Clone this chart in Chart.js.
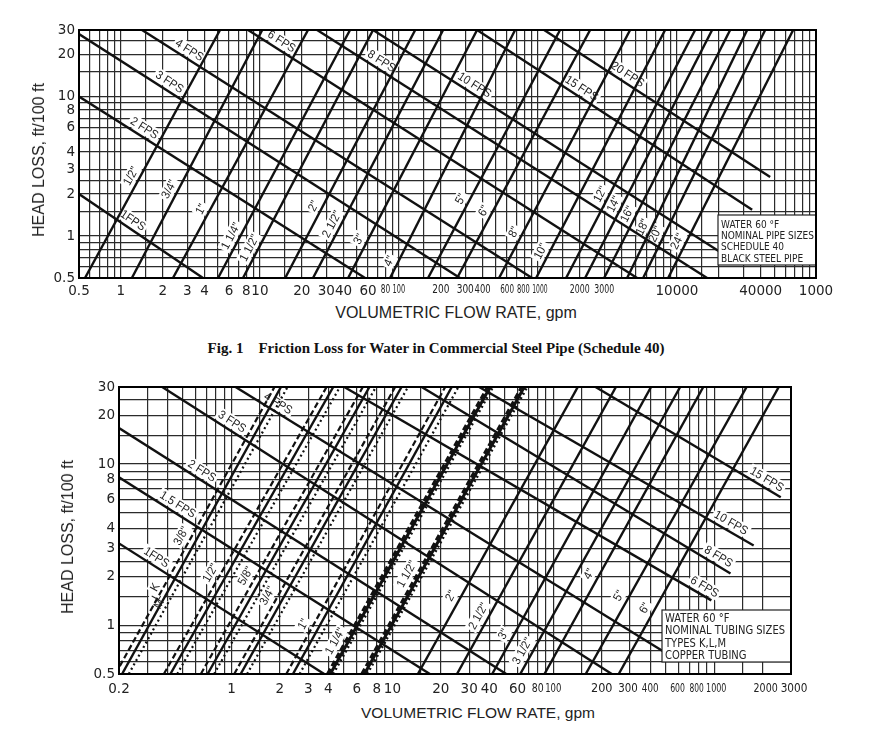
<!DOCTYPE html>
<html><head><meta charset="utf-8">
<script src="https://cdn.jsdelivr.net/npm/chart.js@4.4.1/dist/chart.umd.min.js"></script>
<style>
html,body{margin:0;padding:0;background:#fff}
body{width:873px;height:735px;position:relative;overflow:hidden;font-family:"Liberation Sans",Arial,sans-serif}
.box{position:absolute;left:0;width:873px}
.t{position:absolute;white-space:nowrap;color:#222;font-family:"Liberation Sans",Arial,sans-serif}
</style></head><body>
<div class="box" style="top:0;height:300px"><canvas id="steel"></canvas></div>
<div class="t" style="left:456px;top:313px;transform:translate(-50%,-50%);font-size:16px">VOLUMETRIC FLOW RATE, gpm</div>
<div class="t" style="left:39px;top:160px;transform:translate(-50%,-50%) rotate(-90deg);font-size:16px">HEAD LOSS, ft/100 ft</div>
<div class="t" style="left:436px;top:348px;transform:translate(-50%,-50%);font:bold 15px 'Liberation Serif','DejaVu Serif',serif;color:#111">Fig. 1&nbsp;&nbsp;&nbsp; Friction Loss for Water in Commercial Steel Pipe (Schedule 40)</div>
<div class="box" style="top:360px;height:340px"><canvas id="copper"></canvas></div>
<div class="t" style="left:478px;top:713px;transform:translate(-50%,-50%);font-size:15.5px">VOLUMETRIC FLOW RATE, gpm</div>
<div class="t" style="left:68px;top:537px;transform:translate(-50%,-50%) rotate(-90deg);font-size:16px">HEAD LOSS, ft/100 ft</div>
<script>
// ================= Fig. 1 : commercial steel pipe (schedule 40) =================
const steelSizes = ['1/2"','3/4"','1"','1 1/4"','1 1/2"','2"','2 1/2"','3"','4"','5"','6"','8"','10"','12"','14"','16"','18"','20"','24"'];
// flow (gpm) where each size line meets head loss 0.5 and 30 ft/100 ft
const steelFlowAtLoss05 = [0.552,1.20,2.37,5.0,7.56,15.2,24.1,43.1,86.4,162,262,525,970,1594,2184,2992,4379,5710,8640];
const steelFlowAtLoss30 = [5.17,10.4,22.2,44.5,65.2,131,208,365,685,1443,2373,4603,8216,13510,17900,24130,31970,43080,68500];
const steelSizeLabelLoss = [2.52,2.03,1.46,0.937,0.769,1.54,1.14,0.892,0.62,1.73,1.42,1.0,0.73,1.87,1.59,1.35,1.09,0.97,0.86];

const steelVelocities = ['1FPS','2 FPS','3 FPS','4 FPS','6 FPS','8 FPS','10 FPS','15 FPS','20 FPS'];
const steelVelStartFlow = [0.5,0.5,0.5,1.42,8.22,25.8,65.2,365,1108];
const steelVelStartLoss = [2.0,10,28.1,30,30,30,30,30,30];
const steelVelEndFlow = [3.90,57.1,275,908,5170,16480,20440,34730,46800];
const steelVelEndLoss = [0.5,0.5,0.5,0.5,0.5,0.5,0.769,1.54,2.65];
const steelVelLabelFlow = [1.13,1.37,2.08,2.89,13.3,69.7,325,1913,4100];

const steelXTickValues = [0.5,1,2,3,4,6,8,10,20,30,40,60,80,100,200,300,400,600,800,1000,2000,3000,10000,40000,100000];
const steelXTickText = ['0.5','1','2','3','4','6','8','10','20','30','40','60','80','100','200','300','400','600','800','1000','2000','3000','10000','40000','1000'];
const steelNarrowTicks = [80,100,200,300,400,600,800,1000,2000,3000];
const steelYTickValues = [0.5,1,2,3,4,6,8,10,20,30];
const steelYTickText = ['0.5','1','2','3','4','6','8','10','20','30'];
const steelNote = ['WATER 60 °F','NOMINAL PIPE SIZES','SCHEDULE 40','BLACK STEEL PIPE'];

// ================= copper tubing, types K, L, M =================
const copperSizes = ['3/8"','1/2"','5/8"','3/4"','1"','1 1/4"','1 1/2"','2"','2 1/2"','3"','3 1/2"','4"','5"','6"'];
const copperLFlowAtLoss05 = [0.209,0.417,0.710,1.14,2.41,4.11,6.70,14.4,25.2,41.7,62.3,88.1,159,255];
const copperLFlowAtLoss30 = [2.03,4.29,7.20,11.4,23.4,40.5,66.0,142,245,405,614,855,1589,2518];
const copperKFlowAtLoss05 = [0.19,0.38,0.645,1.04,2.19,3.95,6.45];
const copperKFlowAtLoss30 = [1.85,3.9,6.55,10.4,21.3,39.0,63.5];
const copperMFlowAtLoss05 = [0.23,0.46,0.78,1.25,2.65,4.27,6.95];
const copperMFlowAtLoss30 = [2.23,4.72,7.9,12.5,25.7,42.0,68.6];
const copperSizeLabelLoss = [3.36,1.98,1.90,1.43,0.955,0.749,1.95,1.43,1.07,0.828,0.65,1.95,1.43,1.20];
const copperTypeLabels = ['K','L','M'];
const copperTypeLabelLoss = [1.64,1.43,1.29];

const copperVelocities = ['1FPS','1.5 FPS','2 FPS','3 FPS','4 FPS','6 FPS','8 FPS','10 FPS','15 FPS'];
const copperVelStartFlow = [0.2,0.2,0.2,0.371,1.06,5.02,15.2,34.6,183];
const copperVelStartLoss = [3.22,8.28,16.7,30,30,30,30,30,30];
const copperVelEndFlow = [3.77,17.1,51.0,231,495,960,1262,1758,2591];
const copperVelEndLoss = [0.5,0.5,0.5,0.5,0.68,1.43,2.10,3.13,6.22];
const copperVelLabelFlow = [0.321,0.435,0.614,0.946,1.83,820,1000,1200,2000];

const copperXTickValues = [0.2,1,2,3,4,6,8,10,20,30,40,60,80,100,200,300,400,600,800,1000,2000,3000];
const copperXTickText = ['0.2','1','2','3','4','6','8','10','20','30','40','60','80','100','200','300','400','600','800','1000','2000','3000'];
const copperNarrowTicks = [80,100,200,300,400,600,800,1000,2000,3000];
const copperYTickValues = [0.5,1,2,3,4,6,8,10,20,30];
const copperYTickText = ['0.5','1','2','3','4','6','8','10','20','30'];
const copperNote = ['WATER 60 °F','NOMINAL TUBING SIZES','TYPES K,L,M','COPPER TUBING'];

// grid multipliers per decade
const xGridMult = [1,1.5,2,3,4,5,6,7,8,9];
const yGridMult = [1,1.5,2,2.5,3,4,5,6,7,8,9];

// ---------------------------------------------------------------
function gridValues(min, max, mult) {
  const out = [];
  for (let e = -2; e <= 6; e++) for (const m of mult) {
    const v = +(m * Math.pow(10, e)).toPrecision(6);
    if (v >= min * 0.9999 && v <= max * 1.0001) out.push(v);
  }
  return out.sort((a, b) => a - b);
}
function seg(x1, y1, x2, y2, extra) {
  return Object.assign({ data: [{x: x1, y: y1}, {x: x2, y: y2}], borderColor: '#111', borderWidth: 2.4,
    pointRadius: 0, fill: false, tension: 0 }, extra || {});
}
const LABEL_FONT = '12px "Liberation Sans", Arial, sans-serif';

function makeDecor(cfg) {
  function place(chart, it) {
    const ds = chart.data.datasets[it.ds];
    const xs = chart.scales.x, ys = chart.scales.y;
    const a = {x: xs.getPixelForValue(ds.data[0].x), y: ys.getPixelForValue(ds.data[0].y)};
    const b = {x: xs.getPixelForValue(ds.data[1].x), y: ys.getPixelForValue(ds.data[1].y)};
    const t = it.axis === 'x' ? (xs.getPixelForValue(it.at) - a.x) / (b.x - a.x)
                              : (ys.getPixelForValue(it.at) - a.y) / (b.y - a.y);
    let ang = Math.atan2(b.y - a.y, b.x - a.x);
    if (ang > Math.PI / 2) ang -= Math.PI;
    if (ang < -Math.PI / 2) ang += Math.PI;
    return {x: a.x + t * (b.x - a.x), y: a.y + t * (b.y - a.y), ang};
  }
  function labels(chart, bg) {
    const ctx = chart.ctx, ca = chart.chartArea;
    ctx.save();
    ctx.beginPath(); ctx.rect(ca.left, ca.top, ca.right - ca.left, ca.bottom - ca.top); ctx.clip();
    for (const it of cfg.labels) {
      const p = place(chart, it);
      const sx = 0.92;
      ctx.save();
      ctx.translate(p.x, p.y); ctx.rotate(p.ang); ctx.translate(0, -(it.off == null ? 8 : it.off));
      ctx.font = LABEL_FONT;
      const w = ctx.measureText(it.text).width * sx;
      if (bg) {
        ctx.fillStyle = '#fff';
        ctx.fillRect(-w / 2 - 2, -7, w + 4, 13);
      } else {
        ctx.scale(sx, 1);
        ctx.fillStyle = '#222'; ctx.textAlign = 'center'; ctx.textBaseline = 'middle';
        ctx.fillText(it.text, 0, 0);
      }
      ctx.restore();
    }
    ctx.restore();
  }
  function note(chart) {
    const ctx = chart.ctx, ca = chart.chartArea, n = cfg.note;
    const left = ca.right - n.w, top = ca.bottom - n.up;
    ctx.save();
    ctx.fillStyle = '#fff'; ctx.fillRect(left, top, n.w, n.h);
    ctx.strokeStyle = '#222'; ctx.lineWidth = 1.2; ctx.strokeRect(left, top, n.w, n.h);
    ctx.font = n.font; ctx.fillStyle = '#222'; ctx.textBaseline = 'middle';
    const widest = Math.max(...n.lines.map(s => ctx.measureText(s).width));
    const sx = n.textW / widest;
    n.lines.forEach((s, i) => {
      ctx.save(); ctx.translate(left + 3, top + n.first + i * n.step); ctx.scale(sx, 1);
      ctx.fillText(s, 0, 0); ctx.restore();
    });
    ctx.restore();
  }
  // narrow (condensed) x tick labels, placed through the x scale
  function narrowTicks(chart) {
    const ctx = chart.ctx, ca = chart.chartArea, xs = chart.scales.x;
    const xText = new Map(cfg.xTickValues.map((v, i) => [v, cfg.xTickText[i]]));
    ctx.save();
    ctx.font = cfg.narrowFont; ctx.fillStyle = '#222'; ctx.textAlign = 'center'; ctx.textBaseline = 'top';
    cfg.narrowTicks.forEach((v, i) => {
      const px = xs.getPixelForValue(v) + (cfg.narrowShift ? cfg.narrowShift[i] : 0);
      ctx.save(); ctx.translate(px, ca.bottom + cfg.xPad + cfg.narrowDy); ctx.scale(cfg.narrowSquash[i], 1);
      ctx.fillText(xText.get(v), 0, 0); ctx.restore();
    });
    ctx.restore();
  }
  return {
    id: 'decor',
    beforeDatasetsDraw(chart) { labels(chart, true); },
    afterDatasetsDraw(chart) {
      labels(chart, false);
      note(chart);
      const ctx = chart.ctx, ca = chart.chartArea;
      ctx.save(); ctx.strokeStyle = '#000'; ctx.lineWidth = 2;
      ctx.strokeRect(ca.left, ca.top, ca.right - ca.left, ca.bottom - ca.top); ctx.restore();
    },
    afterDraw(chart) { narrowTicks(chart); }
  };
}

function makeChart(id, cfg) {
  const xText = new Map(cfg.xTickValues.map((v, i) => [v, cfg.xTickText[i]]));
  const yText = new Map(cfg.yTickValues.map((v, i) => [v, cfg.yTickText[i]]));
  const narrow = new Set(cfg.narrowTicks);
  const xGrid = gridValues(cfg.xMin, cfg.xMax, xGridMult);
  const yGrid = gridValues(cfg.yMin, cfg.yMax, yGridMult);
  return new Chart(document.getElementById(id), {
    type: 'line',
    data: {datasets: cfg.datasets},
    options: {
      responsive: true, maintainAspectRatio: false, animation: false, events: [],
      layout: {padding: cfg.padding},
      plugins: {legend: {display: false}, tooltip: {enabled: false}},
      scales: {
        x: {type: 'logarithmic', min: cfg.xMin, max: cfg.xMax,
          afterBuildTicks: s => { s.ticks = xGrid.map(v => ({value: v})); },
          afterFit: s => { s.height = cfg.xAxisH; },
          grid: {color: '#2b2b2b', lineWidth: 1.2, drawTicks: false},
          border: {display: true, color: '#000', width: 2},
          ticks: {autoSkip: false, maxRotation: 0, minRotation: 0, padding: cfg.xPad, color: '#222',
            callback: v => (xText.has(v) && !narrow.has(v)) ? xText.get(v) : '',
            font: {family: '"DejaVu Sans", sans-serif', size: 13.5}}},
        y: {type: 'logarithmic', min: cfg.yMin, max: cfg.yMax,
          afterBuildTicks: s => { s.ticks = yGrid.map(v => ({value: v})); },
          afterFit: s => { s.width = cfg.yAxisW; },
          grid: {color: '#2b2b2b', lineWidth: 1.2, drawTicks: false},
          border: {display: true, color: '#000', width: 2},
          ticks: {autoSkip: false, padding: 4, color: '#222',
            callback: v => yText.has(v) ? yText.get(v) : '',
            font: {family: '"DejaVu Sans", sans-serif', size: 13.5}}}
      }
    },
    plugins: [makeDecor(cfg)]
  });
}

// ---------- build steel chart ----------
(function () {
  const ds = [], labels = [];
  steelSizes.forEach((s, i) => {
    ds.push(seg(steelFlowAtLoss05[i], 0.5, steelFlowAtLoss30[i], 30));
    labels.push({ds: ds.length - 1, text: s, axis: 'y', at: steelSizeLabelLoss[i], off: 8});
  });
  steelVelocities.forEach((s, i) => {
    ds.push(seg(steelVelStartFlow[i], steelVelStartLoss[i], steelVelEndFlow[i], steelVelEndLoss[i]));
    labels.push({ds: ds.length - 1, text: s, axis: 'x', at: steelVelLabelFlow[i], off: 8});
  });
  makeChart('steel', {
    datasets: ds, labels,
    xMin: 0.5, xMax: 100000, yMin: 0.5, yMax: 30,
    xTickValues: steelXTickValues, xTickText: steelXTickText, narrowTicks: steelNarrowTicks,
    narrowSquash: [0.62,0.55,0.75,0.75,0.7,0.6,0.56,0.5,0.65,0.65],
    narrowShift: [0,0,0,0,0,0,-1,2,0,0],
    narrowFont: '12px "DejaVu Sans", sans-serif', narrowDy: 1,
    yTickValues: steelYTickValues, yTickText: steelYTickText,
    padding: {left: 0, right: 57, top: 30, bottom: 0}, xAxisH: 22, yAxisW: 79, xPad: 5,
    note: {lines: steelNote, w: 98, h: 50, up: 63, first: 10, step: 11.3, textW: 93, font: '11px "DejaVu Sans", sans-serif'}
  });
})();

// ---------- build copper chart ----------
(function () {
  const ds = [], labels = [];
  copperSizes.forEach((s, i) => {
    const heavy = i === 5 || i === 6;
    if (i < copperKFlowAtLoss05.length) {
      ds.push(seg(copperKFlowAtLoss05[i], 0.5, copperKFlowAtLoss30[i], 30, {borderDash: [6, 3], borderWidth: heavy ? 3 : 2.2}));
      if (i === 0) labels.push({ds: ds.length - 1, text: copperTypeLabels[0], axis: 'y', at: copperTypeLabelLoss[0], off: 7});
    }
    ds.push(seg(copperLFlowAtLoss05[i], 0.5, copperLFlowAtLoss30[i], 30, {borderWidth: heavy ? 3 : 2.4}));
    const lIdx = ds.length - 1;
    if (i === 0) labels.push({ds: lIdx, text: copperTypeLabels[1], axis: 'y', at: copperTypeLabelLoss[1], off: 7});
    if (i < copperMFlowAtLoss05.length) {
      ds.push(seg(copperMFlowAtLoss05[i], 0.5, copperMFlowAtLoss30[i], 30, {borderDash: [2, 3], borderWidth: heavy ? 3 : 2.2}));
      if (i === 0) labels.push({ds: ds.length - 1, text: copperTypeLabels[2], axis: 'y', at: copperTypeLabelLoss[2], off: 7});
    }
    labels.push({ds: i < 7 ? lIdx - 1 : lIdx, text: s, axis: 'y', at: copperSizeLabelLoss[i], off: 9});
  });
  copperVelocities.forEach((s, i) => {
    ds.push(seg(copperVelStartFlow[i], copperVelStartLoss[i], copperVelEndFlow[i], copperVelEndLoss[i]));
    labels.push({ds: ds.length - 1, text: s, axis: 'x', at: copperVelLabelFlow[i], off: 8});
  });
  makeChart('copper', {
    datasets: ds, labels,
    xMin: 0.2, xMax: 3000, yMin: 0.5, yMax: 30,
    xTickValues: copperXTickValues, xTickText: copperXTickText, narrowTicks: copperNarrowTicks,
    narrowSquash: [0.75,0.68,0.9,0.82,0.7,0.62,0.6,0.64,0.76,0.84],
    narrowShift: [0,0,0,-2,0,-1,-2,2,3,3],
    narrowFont: '12.5px "DejaVu Sans", sans-serif', narrowDy: 1,
    yTickValues: copperYTickValues, yTickText: copperYTickText,
    padding: {left: 0, right: 82, top: 27, bottom: 0}, xAxisH: 26, yAxisW: 119, xPad: 7,
    note: {lines: copperNote, w: 129, h: 52, up: 64, first: 9, step: 12.3, textW: 120, font: '12px "DejaVu Sans", sans-serif'}
  });
})();
</script>
</body></html>
